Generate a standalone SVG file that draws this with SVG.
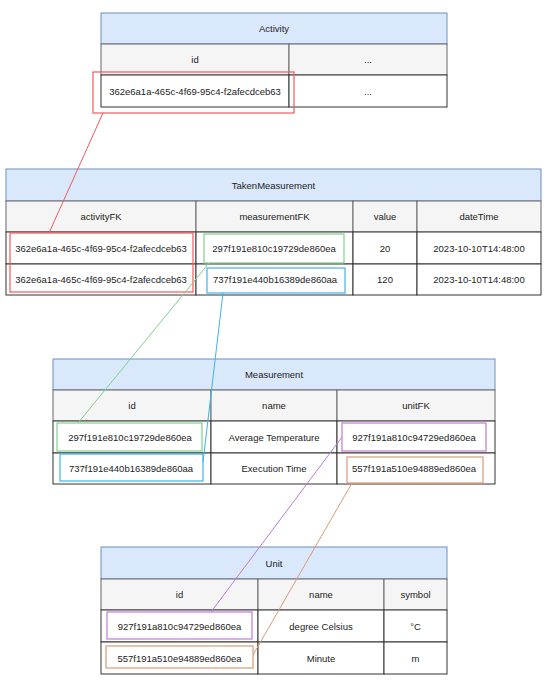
<svg xmlns="http://www.w3.org/2000/svg" width="550" height="681" viewBox="0 0 550 681">
<style>
.hd{fill:#dae8fc;stroke:#6c8ebf;stroke-width:1}
.ch{fill:#f5f5f5;stroke:#666666;stroke-width:1}
.dc{fill:#ffffff;stroke:#333333;stroke-width:1}
text{font-family:"Liberation Sans",Arial,sans-serif;font-size:9.5px;fill:#222222;text-anchor:middle;dominant-baseline:central}
.hl{fill:none;stroke-width:1.2}
.red{stroke:#f05a5a}
.grn{stroke:#7fd08a}
.blu{stroke:#3fb3ea}
.pur{stroke:#c07ad8}
.org{stroke:#d99a74}
line{stroke-width:1}
</style>
<rect width="550" height="681" fill="#ffffff"/>

<g id="activity">
<rect class="hd" x="101" y="13" width="346" height="31"/>
<text x="274" y="28.5">Activity</text>
<rect class="ch" x="101" y="44" width="188" height="31"/>
<rect class="ch" x="289" y="44" width="158" height="31"/>
<text x="195" y="59.5">id</text>
<text x="368" y="59.5">...</text>
<rect class="dc" x="101" y="75" width="188" height="32"/>
<rect class="dc" x="289" y="75" width="158" height="32"/>
<text x="195" y="91">362e6a1a-465c-4f69-95c4-f2afecdceb63</text>
<text x="368" y="91">...</text>
<rect class="hl red" x="93" y="72" width="201" height="41"/>
</g>

<g id="takenmeasurement">
<rect class="hd" x="6" y="169" width="535" height="32"/>
<text x="273.5" y="185">TakenMeasurement</text>
<rect class="ch" x="6" y="201" width="190" height="31"/>
<rect class="ch" x="196" y="201" width="157" height="31"/>
<rect class="ch" x="353" y="201" width="64" height="31"/>
<rect class="ch" x="417" y="201" width="124" height="31"/>
<text x="101" y="216.5">activityFK</text>
<text x="274.5" y="216.5">measurementFK</text>
<text x="385" y="216.5">value</text>
<text x="479" y="216.5">dateTime</text>
<rect class="dc" x="6" y="232" width="190" height="32"/>
<rect class="dc" x="196" y="232" width="157" height="32"/>
<rect class="dc" x="353" y="232" width="64" height="32"/>
<rect class="dc" x="417" y="232" width="124" height="32"/>
<text x="101" y="248">362e6a1a-465c-4f69-95c4-f2afecdceb63</text>
<text x="274" y="248">297f191e810c19729de860ea</text>
<text x="385" y="248">20</text>
<text x="479" y="248">2023-10-10T14:48:00</text>
<rect class="dc" x="6" y="264" width="190" height="31"/>
<rect class="dc" x="196" y="264" width="157" height="31"/>
<rect class="dc" x="353" y="264" width="64" height="31"/>
<rect class="dc" x="417" y="264" width="124" height="31"/>
<text x="101" y="279.5">362e6a1a-465c-4f69-95c4-f2afecdceb63</text>
<text x="275" y="279.5">737f191e440b16389de860aa</text>
<text x="385" y="279.5">120</text>
<text x="479" y="279.5">2023-10-10T14:48:00</text>
<rect class="hl red" x="10" y="233" width="183" height="59"/>
<rect class="hl grn" x="204" y="234" width="140" height="29"/>
<rect class="hl blu" x="207" y="268" width="138" height="25"/>
</g>

<g id="measurement">
<rect class="hd" x="53" y="359" width="442" height="31"/>
<text x="274" y="374.5">Measurement</text>
<rect class="ch" x="53" y="390" width="158" height="31"/>
<rect class="ch" x="211" y="390" width="126" height="31"/>
<rect class="ch" x="337" y="390" width="158" height="31"/>
<text x="132" y="405.5">id</text>
<text x="274" y="405.5">name</text>
<text x="416" y="405.5">unitFK</text>
<rect class="dc" x="53" y="421" width="158" height="32"/>
<rect class="dc" x="211" y="421" width="126" height="32"/>
<rect class="dc" x="337" y="421" width="158" height="32"/>
<text x="130" y="437">297f191e810c19729de860ea</text>
<text x="274" y="437">Average Temperature</text>
<text x="414" y="437">927f191a810c94729ed860ea</text>
<rect class="dc" x="53" y="453" width="158" height="31"/>
<rect class="dc" x="211" y="453" width="126" height="31"/>
<rect class="dc" x="337" y="453" width="158" height="31"/>
<text x="131" y="468.5">737f191e440b16389de860aa</text>
<text x="274" y="468.5">Execution Time</text>
<text x="414" y="468.5">557f191a510e94889ed860ea</text>
<rect class="hl grn" x="57" y="423" width="145" height="28"/>
<rect class="hl blu" x="60" y="454" width="143" height="27"/>
<rect class="hl pur" x="342" y="423" width="144" height="28"/>
<rect class="hl org" x="347" y="457" width="136" height="26"/>
</g>

<g id="unit">
<rect class="hd" x="101" y="547" width="346" height="32"/>
<text x="274" y="563">Unit</text>
<rect class="ch" x="101" y="579" width="157" height="31"/>
<rect class="ch" x="258" y="579" width="126" height="31"/>
<rect class="ch" x="384" y="579" width="63" height="31"/>
<text x="179.5" y="594.5">id</text>
<text x="321" y="594.5">name</text>
<text x="415.5" y="594.5">symbol</text>
<rect class="dc" x="101" y="610" width="157" height="32"/>
<rect class="dc" x="258" y="610" width="126" height="32"/>
<rect class="dc" x="384" y="610" width="63" height="32"/>
<text x="179.5" y="626">927f191a810c94729ed860ea</text>
<text x="321" y="626">degree Celsius</text>
<text x="415.5" y="626">°C</text>
<rect class="dc" x="101" y="642" width="157" height="32"/>
<rect class="dc" x="258" y="642" width="126" height="32"/>
<rect class="dc" x="384" y="642" width="63" height="32"/>
<text x="179.5" y="658">557f191a510e94889ed860ea</text>
<text x="321" y="658">Minute</text>
<text x="415.5" y="658">m</text>
<rect class="hl pur" x="107" y="612" width="145" height="27"/>
<rect class="hl org" x="106" y="646" width="147" height="22"/>
</g>

<g id="connectors">
<line class="red" x1="103" y1="113" x2="49" y2="233"/>
<line class="grn" x1="209" y1="263" x2="78" y2="423"/>
<line class="blu" x1="223" y1="293" x2="203" y2="462"/>
<line class="pur" x1="342" y1="437" x2="211" y2="612"/>
<line class="org" x1="352" y1="483" x2="253" y2="655"/>
</g>
</svg>
